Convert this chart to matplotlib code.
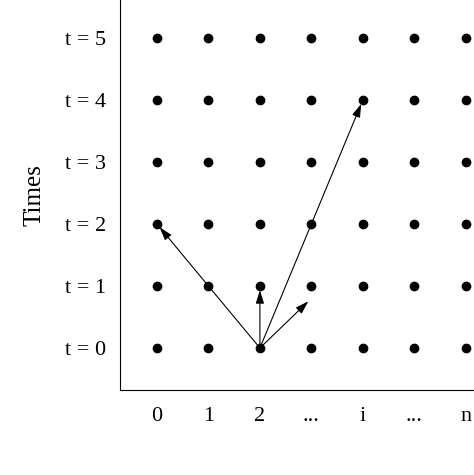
import matplotlib.pyplot as plt

node_labels = ["0", "1", "2", "...", "i", "...", "n"]
time_labels = ["t = 0", "t = 1", "t = 2", "t = 3", "t = 4", "t = 5"]
source = (2, 0)
arrow_targets = [(0, 2), (2, 1), (3, 0.8), (4, 4)]

plt.rcParams['font.family'] = ['Liberation Serif', 'DejaVu Serif']
fig = plt.figure(figsize=(4.74, 4.75), dpi=100)
ax = fig.add_axes([0.253, 0.179, 0.747, 0.821])
for i in range(len(node_labels)):
    for t in range(len(time_labels)):
        ax.plot(i, t, 'o', color='black', ms=6)
for tx, ty in arrow_targets:
    ax.annotate('', xy=(tx, ty), xytext=source,
                arrowprops=dict(arrowstyle='-|>,head_length=0.8,head_width=0.25', color='black', lw=0.8, shrinkA=0, shrinkB=3))
ax.set_xlim(-0.72, 6.16)
ax.set_ylim(-0.677, 5.613)
ax.set_xticks(range(len(node_labels)))
ax.set_xticklabels(node_labels, fontsize=16)
ax.set_yticks(range(len(time_labels)))
ax.set_yticklabels(time_labels, fontsize=16)
ax.tick_params(axis='y', length=0, pad=10)
ax.tick_params(axis='x', length=0, pad=12)
ax.spines['top'].set_visible(False)
ax.spines['right'].set_visible(False)
ax.set_xlabel('Nodes', fontsize=18, labelpad=38)
ax.set_ylabel('Times', fontsize=18, labelpad=14)
fig.savefig('out.png')
